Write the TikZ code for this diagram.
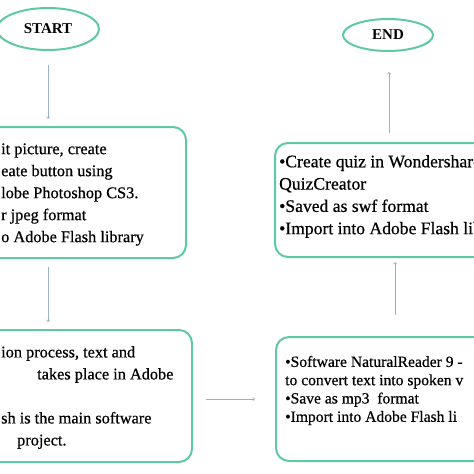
\documentclass[tikz,border=0pt]{standalone}
\usepackage{fontspec}
\setmainfont{Liberation Serif}
\newfontfamily\heavyserif{Liberation Serif}[BoldFont = Liberation Serif, BoldFeatures = {FakeBold = 0.6}]
\usepackage{tikz}
\usetikzlibrary{shapes.geometric}

\definecolor{boxgreen}{RGB}{95,200,165}
\definecolor{arrowgray}{RGB}{150,180,195}

\begin{document}
\begin{tikzpicture}[x = 1pt, y = -1pt,
        stepbox/.style = {draw = boxgreen, line width = 2pt, rectangle, rounded corners = 13pt, inner sep = 0pt},
        terminal/.style = {draw = boxgreen, line width = 2pt, ellipse, inner sep = 0pt, font = \fontsize{15}{18}\selectfont\bfseries},
        boxtext/.style = {align = left, anchor = west, inner sep = 0pt, font = \fontsize{16.3}{22}\selectfont\heavyserif\bfseries},
        flow/.style = {draw = arrowgray, line width = 0.7pt, ->}
    ]
        \useasboundingbox (0, 0) rectangle (474, 474);
        \clip (0, 0) rectangle (474, 474);

        \draw
            (48, 29) node[terminal, minimum width = 102pt, minimum height = 42pt](start){START}
            (388, 35) node[terminal, minimum width = 90pt, minimum height = 32pt](end){END}

            (63, 192.5) node[stepbox, minimum width = 246pt, minimum height = 131pt](edit){}
            (66, 396) node[stepbox, minimum width = 252pt, minimum height = 132pt](flash){}
            (407.5, 200) node[stepbox, minimum width = 265pt, minimum height = 114pt](quiz){}
            (408, 399) node[stepbox, minimum width = 264pt, minimum height = 124pt](audio){}
        ;

        \node[boxtext] (editText) at (1, 194.5)
            {it picture, create\\eate button using\\lobe Photoshop CS3.\\r jpeg format\\o Adobe Flash library};
        \node[boxtext] (flashText) at (1, 397.5)
            {ion process, text and\\\hspace*{36pt}takes place in Adobe\\\mbox{}\\sh is the main software\\\hspace*{16pt}project.};
        \node[boxtext, font = \fontsize{17.6}{22.3}\selectfont\heavyserif\bfseries] (quizText) at (279, 196.5)
            {•Create quiz in Wondershare\\QuizCreator\\•Saved as swf format\\•Import into Adobe Flash lib};
        \node[boxtext, font = \fontsize{15.6}{18.3}\selectfont\heavyserif\bfseries] (audioText) at (285, 390.5)
            {•Software NaturalReader 9 -\\to convert text into spoken v\\•Save as mp3 \ format\\•Import into Adobe Flash li};

        \coordinate (up) at (395, 0);
        \coordinate (top) at (389, 0);

        \draw[flow, shorten <= 14pt, shorten >= 7pt]
            (start.south) -- (start.south |- edit.north);
        \draw[flow, shorten <= 8pt, shorten >= 7pt]
            (start.south |- edit.south) -- (start.south |- flash.north);
        \draw[flow, shorten <= 13pt, shorten >= 20pt]
            (flash.east |- audio.west) -- (audio.west);
        \draw[flow, shorten <= 21pt, shorten >= 4pt]
            (up |- audio.north) -- (up |- quiz.south);
        \draw[flow, shorten <= 9pt, shorten >= 20pt]
            (top |- quiz.north) -- (top |- end.south);
    \end{tikzpicture}
\end{document}
